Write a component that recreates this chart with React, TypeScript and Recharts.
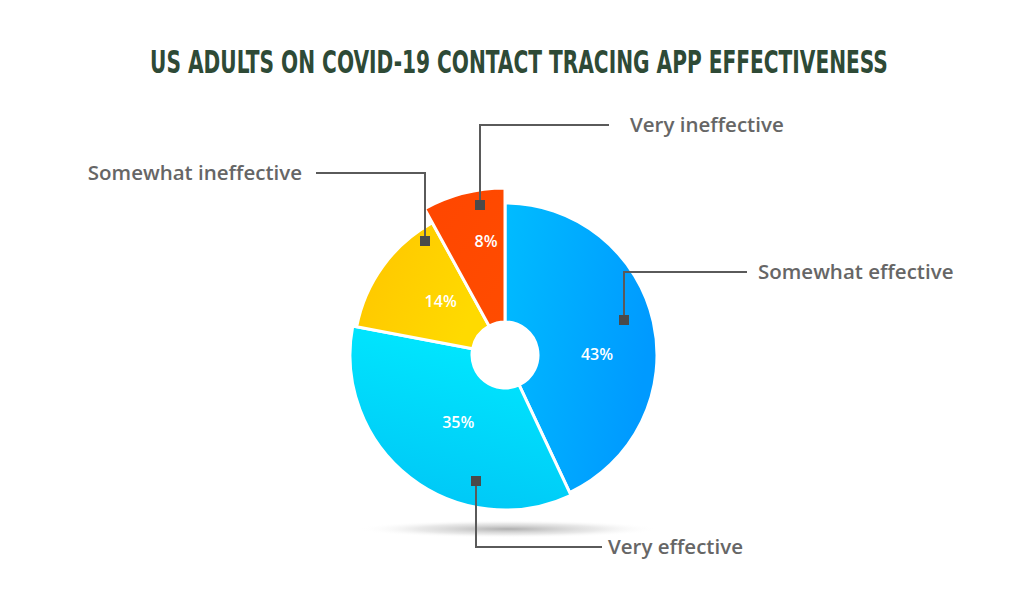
import { PieChart, Pie, Cell } from "recharts";

const categories = ["Somewhat effective", "Very effective", "Somewhat ineffective", "Very ineffective"];
const shares = [43, 35, 14, 8];
const pctLabels = ["43%", "35%", "14%", "8%"];
const fills = ["url(#gBlue)", "url(#gCyan)", "url(#gYellow)", "url(#gRed)"];

const data = categories.map((name, i) => ({ name, value: shares[i] }));

const CX = 505;
const CY = 355;
const INNER = 33;
const OUTER = [152, 155, 151, 167];
const PCT_R = [92, 82, 84, 116];
const PCT_DANGLE = [-12, 3, -4, -5];

// marker angle offset from slice middle, marker radius, elbow y, line end x, text x
const LEADERS = [
  { dAngle: 4, r: 124, elbowY: 272, endX: 747, textX: 758, anchor: "start" },
  { dAngle: 25, r: 129, elbowY: 547, endX: 602, textX: 608, anchor: "start" },
  { dAngle: -19, r: 139, elbowY: 173, endX: 316, textX: 302, anchor: "end" },
  { dAngle: -5, r: 152, elbowY: 125, endX: 609, textX: 630, anchor: "start" },
];

const RADIAN = Math.PI / 180;

function polar(cx: number, cy: number, r: number, angle: number) {
  return { x: cx + r * Math.cos(-angle * RADIAN), y: cy + r * Math.sin(-angle * RADIAN) };
}

function renderLabel(props: any) {
  const { cx, cy, midAngle, index } = props;
  const p = polar(cx, cy, PCT_R[index], midAngle + PCT_DANGLE[index]);
  const ld = LEADERS[index];
  const m = polar(cx, cy, ld.r, midAngle + ld.dAngle);
  const mx = Math.round(m.x);
  const my = Math.round(m.y);
  return (
    <g key={"lbl" + index}>
      <polyline
        points={`${mx},${my} ${mx},${ld.elbowY} ${ld.endX},${ld.elbowY}`}
        fill="none"
        stroke="#5a5a5a"
        strokeWidth={2}
      />
      <rect x={mx - 5} y={my - 5} width={10} height={10} fill="#4a4a4a" />
      <text
        x={ld.textX}
        y={ld.elbowY}
        dy={7}
        textAnchor={ld.anchor as any}
        fill="#666666"
        fontFamily="Open Sans"
        fontWeight={600}
        fontSize={20.5}
      >
        {categories[index]}
      </text>
      <text
        x={p.x}
        y={p.y}
        dy={6}
        textAnchor="middle"
        fill="#ffffff"
        fontFamily="Open Sans"
        fontWeight={600}
        fontSize={16}
      >
        {pctLabels[index]}
      </text>
    </g>
  );
}

export default function App() {
  return (
    <div style={{ position: "absolute", left: 0, top: 0, background: "#ffffff" }}>
      <div
        style={{
          position: "absolute",
          left: -5,
          top: 42,
          width: 1034,
          textAlign: "center",
          fontFamily: "'DejaVu Sans Condensed', 'DejaVu Sans'",
          fontWeight: 700,
          fontSize: 32,
          lineHeight: "40px",
          color: "#2e4a36",
          transform: "scaleX(0.7)",
          transformOrigin: "517px 0",
          whiteSpace: "nowrap",
        }}
      >
        US ADULTS ON COVID-19 CONTACT TRACING APP EFFECTIVENESS
      </div>
      <PieChart width={1024} height={608} margin={{ top: 0, right: 0, bottom: 0, left: 0 }}>
        <defs>
          <linearGradient id="gBlue" x1="0" y1="0" x2="1" y2="0.3">
            <stop offset="0%" stopColor="#00bcff" />
            <stop offset="100%" stopColor="#009aff" />
          </linearGradient>
          <linearGradient id="gCyan" x1="0.6" y1="0" x2="0.3" y2="1">
            <stop offset="0%" stopColor="#00eaff" />
            <stop offset="100%" stopColor="#00c6f6" />
          </linearGradient>
          <linearGradient id="gYellow" x1="0" y1="0" x2="1" y2="0.4">
            <stop offset="0%" stopColor="#ffc400" />
            <stop offset="100%" stopColor="#ffda00" />
          </linearGradient>
          <linearGradient id="gRed" x1="0" y1="0" x2="1" y2="1">
            <stop offset="0%" stopColor="#ff4600" />
            <stop offset="100%" stopColor="#ff4c00" />
          </linearGradient>
          <radialGradient id="gShadow" cx="0.5" cy="0.5" r="0.5">
            <stop offset="0%" stopColor="#9a9a9a" stopOpacity={0.8} />
            <stop offset="60%" stopColor="#c8c8c8" stopOpacity={0.4} />
            <stop offset="100%" stopColor="#ffffff" stopOpacity={0} />
          </radialGradient>
        </defs>
        <ellipse cx={508} cy={529} rx={150} ry={9} fill="url(#gShadow)" />
        {categories.map((_, k) => (
          <Pie
            key={k}
            data={data}
            dataKey="value"
            nameKey="name"
            cx={CX}
            cy={CY}
            startAngle={90}
            endAngle={-270}
            innerRadius={INNER}
            outerRadius={OUTER[k]}
            isAnimationActive={false}
            labelLine={false}
          >
            {data.map((_, i) => (
              <Cell
                key={i}
                fill={i === k ? fills[i] : "none"}
                stroke={i === k ? "#ffffff" : "none"}
                strokeWidth={3}
              />
            ))}
          </Pie>
        ))}
        <Pie
          data={data}
          dataKey="value"
          nameKey="name"
          cx={CX}
          cy={CY}
          startAngle={90}
          endAngle={-270}
          innerRadius={INNER}
          outerRadius={150}
          isAnimationActive={false}
          labelLine={false}
          label={renderLabel}
        >
          {data.map((_, i) => (
            <Cell key={i} fill="none" stroke="none" />
          ))}
        </Pie>
      </PieChart>
    </div>
  );
}
